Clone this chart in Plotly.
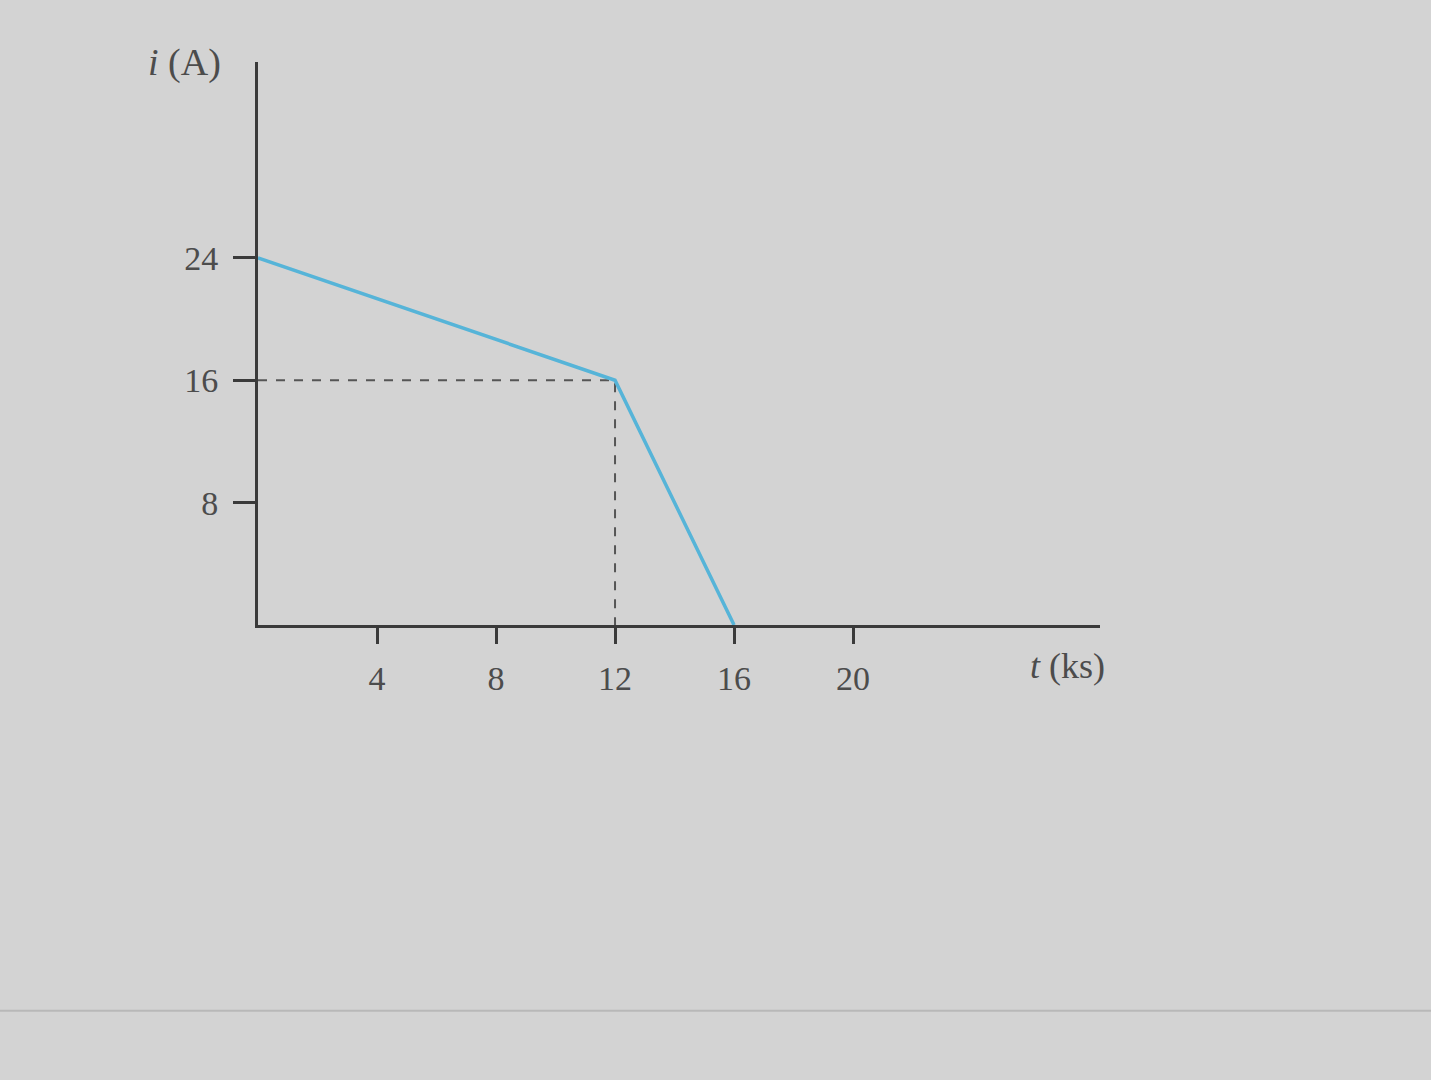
import plotly.graph_objects as go

# current waveform i(t)
t_ks = [0, 12, 16]
i_amp = [24, 16, 0]

# dashed guide lines to the knee point
guide_t = [0, 12, 12]
guide_i = [16, 16, 0]

x_ticks = [4, 8, 12, 16, 20]
y_ticks = [8, 16, 24]

bg = "#d3d3d3"
ink = "#3a3a3a"
tick_font = dict(family="Liberation Serif, Times New Roman, serif", size=34, color="#4c4c4c")

fig = go.Figure()
fig.add_trace(go.Scatter(x=guide_t, y=guide_i, mode="lines",
                         line=dict(color="#555555", width=2, dash="dash"),
                         hoverinfo="skip", showlegend=False))
fig.add_trace(go.Scatter(x=t_ks, y=i_amp, mode="lines",
                         line=dict(color="#56b4d8", width=3.5),
                         showlegend=False))

fig.update_xaxes(range=[0, 28.3], tickvals=x_ticks, ticktext=[str(v) for v in x_ticks],
                 showgrid=False, zeroline=False, showline=True, linecolor=ink, linewidth=3,
                 ticks="outside", ticklen=16, tickwidth=3, tickcolor=ink,
                 ticklabelstandoff=5, tickfont=tick_font)
fig.update_yaxes(range=[0, 36.8], tickvals=y_ticks, ticktext=[str(v) for v in y_ticks],
                 showgrid=False, zeroline=False, showline=True, linecolor=ink, linewidth=3,
                 ticks="outside", ticklen=22, tickwidth=2.5, tickcolor=ink,
                 ticklabelstandoff=8, tickfont=tick_font)

fig.add_annotation(text="<i>i</i> (A)", xref="paper", yref="paper", x=-0.042, y=1.0,
                   xanchor="right", yanchor="middle", showarrow=False,
                   font=dict(family="Liberation Serif, serif", size=38, color="#4c4c4c"))
fig.add_annotation(text="<i>t</i> (ks)", xref="paper", yref="paper", x=0.915, y=-0.072,
                   xanchor="left", yanchor="middle", showarrow=False,
                   font=dict(family="Liberation Serif, serif", size=36, color="#4c4c4c"))

# faint edge near the bottom of the photo
fig.add_shape(type="line", xref="paper", yref="paper", x0=-0.31, x1=1.4, y0=-0.685, y1=-0.685,
              line=dict(color="#b8b8b8", width=2))

fig.update_layout(width=1431, height=1080, paper_bgcolor=bg, plot_bgcolor=bg,
                  margin=dict(l=258, r=331, t=62, b=455))

fig.write_html("out.html", config={"displayModeBar": False},
               post_script="document.body.style.margin='0';document.body.style.background='#d3d3d3';")
